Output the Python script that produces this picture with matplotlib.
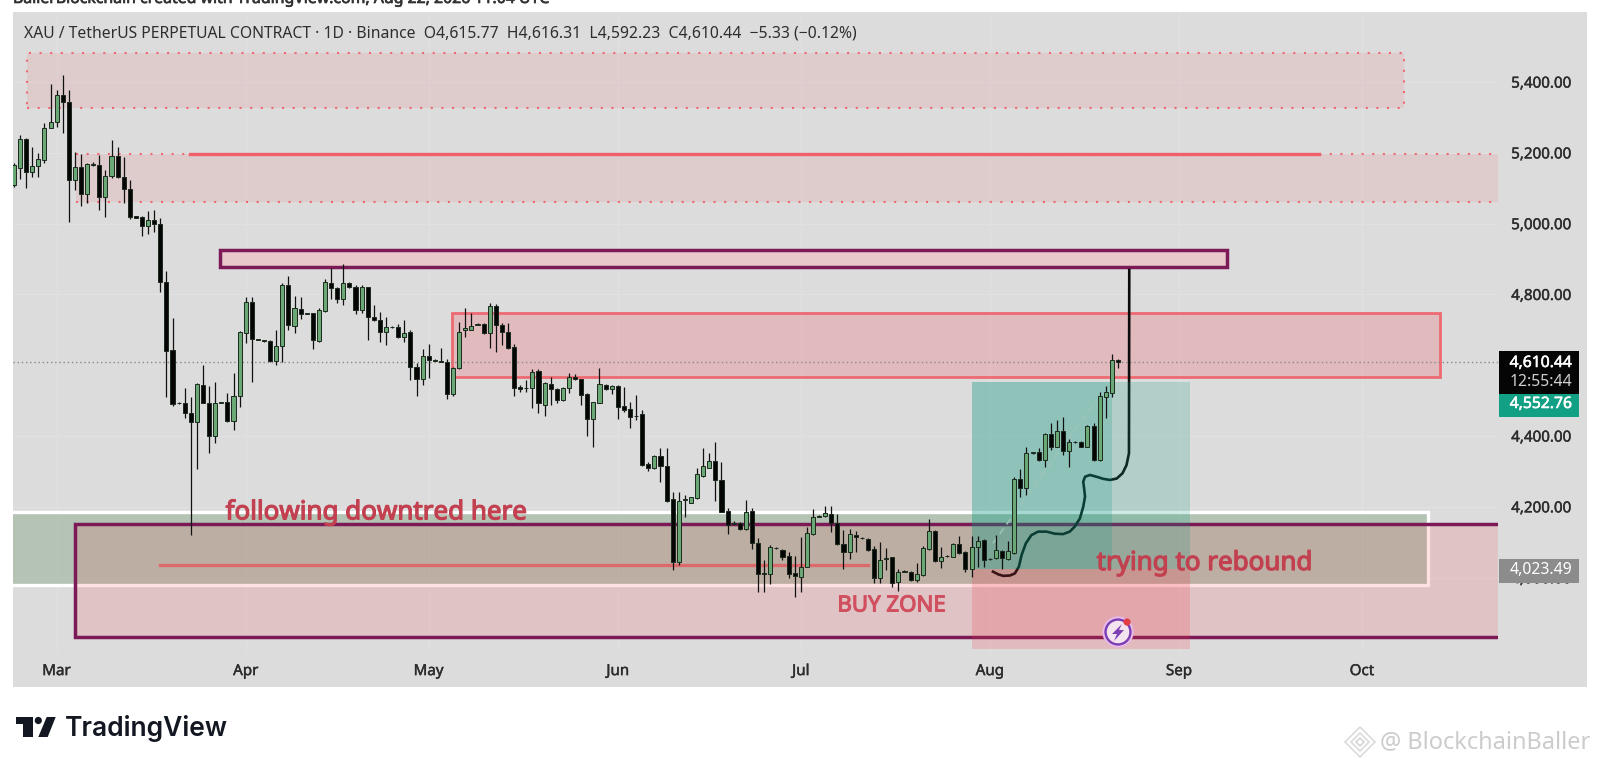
import numpy as np
import matplotlib
matplotlib.use('Agg')
import matplotlib.pyplot as plt
import matplotlib.patheffects as pe
from matplotlib.patches import Rectangle, Polygon, Circle, RegularPolygon

plt.rcParams['font.family'] = ['Noto Sans', 'DejaVu Sans']

# one candle a day, day 0 = 1 Mar, first candle 22 Feb
first_day = -7
opens = [5109,5158,5238,5147,5164,5180,5269,5286,5363,5344,
         5123,5161,5083,5168,5167,5076,5135,5192,5131,5098,
         5021,5018,4994,5010,5000,4836,4643,4494,4492,4464,
         4439,4545,4494,4401,4493,4496,4442,4514,4692,4779,
         4673,4671,4669,4612,4654,4826,4711,4759,4745,4747,
         4669,4753,4833,4819,4786,4833,4820,4756,4820,4737,
         4728,4693,4707,4707,4679,4695,4594,4560,4626,4615,
         4612,4610,4518,4591,4699,4701,4714,4716,4692,4767,
         4714,4695,4652,4539,4535,4535,4585,4488,4546,4532,
         4502,4536,4566,4560,4519,4447,4494,4544,4532,4542,
         4485,4475,4456,4461,4320,4309,4344,4315,4221,4045,
         4219,4212,4224,4288,4311,4329,4276,4189,4152,4153,
         4137,4189,4099,4012,4010,4085,4078,4061,4012,4003,
         4031,4123,4172,4174,4181,4153,4095,4071,4120,4113,
         4108,4082,3998,4053,4057,3987,4017,4016,3992,4007,
         4080,4132,4048,4060,4059,4094,4073,4024,4087,4106,
         4052,4055,4076,4054,4070,4278,4254,4352,4356,4332,
         4406,4370,4415,4359,4384,4384,4370,4428,4332,4511,
         4523,4615.77]
highs = [5170,5250,5241,5217,5200,5285,5394,5379,5420,5377,
         5203,5198,5172,5174,5194,5151,5236,5217,5189,5123,
         5023,5021,5037,5040,5015,4867,4734,4495,4537,4511,
         4549,4601,4541,4553,4497,4521,4579,4698,4792,4792,
         4675,4672,4671,4699,4831,4852,4795,4792,4748,4748,
         4763,4843,4876,4822,4886,4835,4827,4827,4822,4770,
         4751,4737,4711,4716,4728,4699,4605,4646,4659,4617,
         4648,4617,4596,4723,4763,4748,4718,4720,4775,4773,
         4720,4718,4660,4544,4558,4588,4588,4553,4568,4535,
         4539,4577,4575,4562,4522,4497,4591,4546,4544,4544,
         4539,4497,4516,4473,4327,4346,4365,4365,4243,4243,
         4233,4229,4309,4365,4353,4382,4327,4196,4160,4157,
         4219,4196,4111,4050,4092,4087,4080,4073,4061,4116,
         4142,4193,4176,4202,4202,4181,4134,4136,4132,4115,
         4111,4088,4102,4084,4059,4023,4021,4018,4040,4090,
         4165,4135,4086,4064,4097,4118,4075,4118,4118,4108,
         4056,4120,4078,4104,4283,4306,4368,4356,4365,4408,
         4438,4445,4453,4393,4386,4386,4431,4436,4525,4541,
         4632,4616.31]
lows = [5104,5125,5101,5133,5133,5170,5269,5274,5255,5005,
        5095,5050,5057,5164,5038,5020,5128,5128,5057,5012,
        5016,4965,4972,4977,4808,4511,4485,4490,4450,4120,
        4307,4492,4353,4379,4492,4440,4417,4481,4664,4553,
        4670,4667,4610,4601,4610,4699,4692,4732,4744,4645,
        4666,4751,4786,4775,4770,4818,4745,4747,4671,4726,
        4666,4657,4706,4676,4666,4558,4514,4544,4563,4612,
        4608,4504,4514,4588,4679,4699,4713,4688,4650,4638,
        4657,4646,4514,4525,4525,4478,4466,4456,4488,4492,
        4500,4521,4558,4488,4401,4368,4492,4531,4519,4448,
        4469,4424,4445,4316,4302,4306,4269,4214,4021,4036,
        4172,4210,4221,4285,4309,4217,4184,4123,4150,4135,
        4134,4080,3958,3960,3982,4081,4051,3998,3944,3958,
        4029,4120,4170,4172,4130,4092,4023,4054,4073,4109,
        4076,3984,3984,4021,3973,3963,4015,3991,3989,4004,
        4078,4045,4026,4058,4057,4068,4017,4001,4031,4029,
        4050,4053,4023,4051,4068,4227,4233,4350,4330,4313,
        4360,4368,4346,4313,4381,4368,4368,4330,4330,4450,
        4509,4592.23]
closes = [5166,5238,5147,5164,5182,5271,5288,5363,5344,5123,
          5161,5083,5168,5166,5076,5135,5192,5131,5098,5020,
          5017,4994,5010,4999,4836,4641,4490,4492,4464,4439,
          4547,4494,4401,4492,4495,4442,4514,4693,4779,4673,
          4671,4669,4612,4654,4828,4714,4761,4745,4747,4671,
          4756,4834,4819,4786,4833,4820,4756,4820,4737,4728,
          4695,4707,4709,4679,4692,4594,4560,4626,4615,4613,
          4610,4518,4591,4695,4704,4711,4716,4690,4767,4714,
          4695,4648,4537,4534,4537,4582,4492,4549,4532,4502,
          4537,4568,4562,4516,4447,4495,4546,4533,4541,4483,
          4473,4455,4458,4318,4309,4344,4315,4217,4045,4217,
          4221,4227,4292,4315,4329,4276,4186,4149,4155,4137,
          4186,4097,4010,4010,4086,4083,4057,4010,4005,4031,
          4125,4172,4174,4183,4153,4095,4073,4123,4116,4111,
          4078,3998,4050,4056,3984,4015,4019,3993,4010,4085,
          4132,4048,4059,4062,4094,4070,4023,4087,4104,4050,
          4054,4078,4056,4075,4280,4254,4353,4354,4332,4406,
          4370,4415,4358,4384,4383,4370,4429,4332,4513,4525,
          4615,4610.44]

month_days = [0, 31, 61, 92, 122, 153, 184, 214]
month_names = ['Mar', 'Apr', 'May', 'Jun', 'Jul', 'Aug', 'Sep', 'Oct']
price_ticks = [4000, 4200, 4400, 4800, 5000, 5200, 5400]

last_price = 4610.44
entry_price = 4023.49
target_price = 4552.76

# hand drawn projection line
curve_days = [153.5,154.4,155.2,156.3,157.1,157.75,158.2,158.9,159.8,160.9,162.3,163.65,165,166.1,166.9,
              167.75,168.3,168.6,168.45,168.3,168.6,169.4,170.5,171.6,172.7,173.8,174.75,175.4,175.8,175.85]
curve_prices = [4017,4009,4005,4006,4012,4031,4064,4097,4120,4130,4130,4124,4123,4130,4144,
                4167,4200,4229,4252,4271,4285,4290,4285,4279,4276,4280,4295,4318,4351,4869]

header = 'XAU / TetherUS PERPETUAL CONTRACT · 1D · Binance  O4,615.77  H4,616.31  L4,592.23  C4,610.44  −5.33 (−0.12%)'
top_line = 'BallerBlockchain created with TradingView.com, Aug 22, 2026 11:04 UTC'


def heavy(text, width, color):
    # the installed Noto Sans only has the regular cut, thicken it with a stroke
    text.set_path_effects([pe.withStroke(linewidth=width, foreground=color)])
    return text


W, H = 1600, 765
fig = plt.figure(figsize=(W / 100, H / 100), dpi=100, facecolor='white')

# pixel layer behind the chart
bg = fig.add_axes([0, 0, 1, 1], zorder=0)
bg.set_xlim(0, W)
bg.set_ylim(H, 0)
bg.axis('off')
bg.add_patch(Rectangle((13, 12), 1574, 675, fc='#dcdcdc', ec='none'))

# chart area, price scale sits to the right of it
ax = fig.add_axes([13 / W, (H - 687) / H, 1485 / W, 675 / H], zorder=1)
ax.patch.set_visible(False)
for s in ax.spines.values():
    s.set_visible(False)
ax.set_xlim(-7.15, 236.3)
ax.set_ylim(3691, 5598)

ax.yaxis.tick_right()
ax.set_yticks(price_ticks)
ax.set_yticklabels(['{:,.2f}'.format(p) for p in price_ticks])
ax.tick_params(axis='y', length=0, pad=9.5, labelsize=10.9, labelcolor='#2c2c2c')
ax.set_xticks(month_days)
ax.set_xticklabels(month_names)
ax.tick_params(axis='x', length=0, pad=-16.5, labelsize=10.9, labelcolor='#2c2c2c')
for t in ax.get_xticklabels() + ax.get_yticklabels():
    heavy(t, 0.3, '#2c2c2c')
ax.grid(axis='y', color='#e1e1e1', lw=0.8)
ax.vlines(month_days, 3790, 5598, color='#e1e1e1', lw=0.8, zorder=0.5)
ax.set_axisbelow(True)

PINK_EDGE = '#ee6a72'
PURPLE = '#7b1a56'
dots = (0, (1, 4.1))

# white box (green fill) under the buy zone
ax.add_patch(Rectangle((-9, 3979), 233.8, 206, fc=(0.353, 0.541, 0.353, 0.30), ec='white', lw=2.4, zorder=1))
# buy zone
ax.add_patch(Rectangle((3, 3832), 240, 319, fc=(0.949, 0.212, 0.271, 0.15), ec=PURPLE, lw=2.5, zorder=1.1))
ax.plot([17, 133], [4036, 4036], color='#dc6a6a', lw=2.4, zorder=1.2)

# dotted supply zones
ax.add_patch(Rectangle((-4.9, 5327), 225.8, 155, fc=(0.949, 0.212, 0.271, 0.10), ec='none', zorder=1))
ax.add_patch(Rectangle((-4.9, 5327), 225.8, 155, fc='none', ec=PINK_EDGE, lw=1.5, ls=dots, zorder=1.1))
ax.add_patch(Rectangle((3.2, 5062), 233.1, 135, fc=(0.949, 0.212, 0.271, 0.10), ec='none', zorder=1))
ax.plot([3.2, 236.3], [5197, 5197], color=PINK_EDGE, lw=1.5, ls=dots, zorder=1.1)
ax.plot([3.2, 236.3], [5062, 5062], color=PINK_EDGE, lw=1.5, ls=dots, zorder=1.1)
ax.plot([21.9, 207], [5197, 5197], color='#f0606a', lw=2.4, zorder=1.2)

# resistance boxes
ax.add_patch(Rectangle((26.8, 4878), 165, 47, fc='#e9c8cb', ec=PURPLE, lw=2.5, zorder=1.1))
ax.add_patch(Rectangle((64.9, 4567), 161.9, 181, fc=(0.949, 0.212, 0.271, 0.20), ec=PINK_EDGE, lw=2, zorder=1.1))

# last price line
ax.plot([-7.15, 236.3], [last_price, last_price], color='#8a8a8a', lw=1, ls=(0, (1, 2)), zorder=1.3)

# projection curve goes under the long position tool so it gets tinted
ax.plot(curve_days, curve_prices, color='#0c0c0c', lw=1.9, solid_joinstyle='round', zorder=1.5)

# long position tool
ax.add_patch(Rectangle((150, entry_price), 35.8, target_price - entry_price, fc=(0.031, 0.6, 0.506, 0.20), ec='none', zorder=2))
ax.add_patch(Rectangle((150, entry_price), 23, target_price - entry_price, fc=(0.031, 0.6, 0.506, 0.20), ec='none', zorder=2))
ax.add_patch(Rectangle((150, 3798), 35.8, entry_price - 3798, fc=(0.949, 0.212, 0.271, 0.20), ec='none', zorder=2))
ax.plot([153.5, 170.5], [4097, 4502], color='#9cc4b6', lw=1.2, ls=(0, (4, 3)), zorder=2.1)

# candles
days = np.arange(first_day, first_day + len(closes))
opens_a = np.array(opens)
closes_a = np.array(closes)
up = closes_a >= opens_a
ax.vlines(days, lows, highs, color='#111111', lw=0.9, zorder=3)
ax.bar(days, np.abs(closes_a - opens_a), bottom=np.minimum(opens_a, closes_a), width=0.66,
       color=['#6aa875' if u else '#050505' for u in up], edgecolor='#1c2a1e', linewidth=0.7, zorder=3.1)

# text on the chart
txt = '#c2404f'
heavy(ax.text(27.7, 4183, 'following downtred here', color=txt, fontsize=18.7, va='center', zorder=4), 0.9, txt)
heavy(ax.text(170.5, 4040, 'trying to rebound', color=txt, fontsize=18.7, va='center', zorder=4), 0.9, txt)
heavy(ax.text(128, 3920, 'BUY ZONE', color='#d0505f', fontsize=16, va='center', zorder=4), 0.8, '#d0505f')

# pixel layer on top: labels, tags, logos
top = fig.add_axes([0, 0, 1, 1], zorder=2)
top.set_xlim(0, W)
top.set_ylim(H, 0)
top.axis('off')
top.patch.set_visible(False)

top.text(24, 33, header, fontsize=11.3, color='#2e2e2e', va='center')
heavy(top.text(13, -1, top_line, fontsize=11.4, color='#333333', va='center'), 0.5, '#333333')

top.add_patch(Rectangle((1499, 351), 80, 43, fc='#050505', ec='none'))
top.add_patch(Rectangle((1499, 394), 80, 23, fc='#12a085', ec='none'))
top.add_patch(Rectangle((1499, 559), 80, 24, fc='#8c8c8c', ec='none'))
tag_font = dict(ha='center', va='center', fontsize=11.3, color='white')
heavy(top.text(1541, 363, '{:,.2f}'.format(last_price), **tag_font), 0.4, 'white')
top.text(1541, 382, '12:55:44', **dict(tag_font, color='#d0d0d0'))
heavy(top.text(1541, 404, '{:,.2f}'.format(target_price), **tag_font), 0.4, 'white')
top.text(1541, 570, '{:,.2f}'.format(entry_price), **tag_font)

# news badge on the buy zone edge
top.add_patch(Circle((1118, 632), 15, fc='#f6e6f2', ec='#e9b4e4', lw=1))
top.add_patch(Circle((1118, 632), 12.5, fc='#f3e4ef', ec='#7e3fb4', lw=1.8))
top.add_patch(Polygon([(1122, 624), (1112, 634), (1117, 634), (1114, 641), (1124, 630), (1119, 630)], fc='#7e3fb4', ec='none'))
top.add_patch(Circle((1127, 622), 3.6, fc='#e23f45', ec='none'))

# TradingView logo
logo = '#131722'
top.add_patch(Polygon([(16, 717), (32.7, 717), (32.7, 737), (23.3, 737), (23.3, 724), (16, 724)], fc=logo, ec='none'))
top.add_patch(Circle((38.3, 720.5), 3.6, fc=logo, ec='none'))
top.add_patch(Polygon([(46.7, 717), (55.7, 717), (47.7, 737), (38.3, 737)], fc=logo, ec='none'))
top.text(65, 728, 'TradingView', family=['Inter', 'DejaVu Sans'], fontweight='semibold', fontsize=19, color=logo, va='center')

# watermark
for r, a in [(15, 0.9), (9, 0.9), (4, 1.0)]:
    top.add_patch(RegularPolygon((1360, 742), 4, radius=r, fc='none', ec='#d6d6d6', lw=1.2, alpha=a))
top.text(1380, 742, '@ BlockchainBaller', fontsize=17, color='#cccccc', va='center')

fig.savefig('out.png', dpi=100, facecolor='white')
